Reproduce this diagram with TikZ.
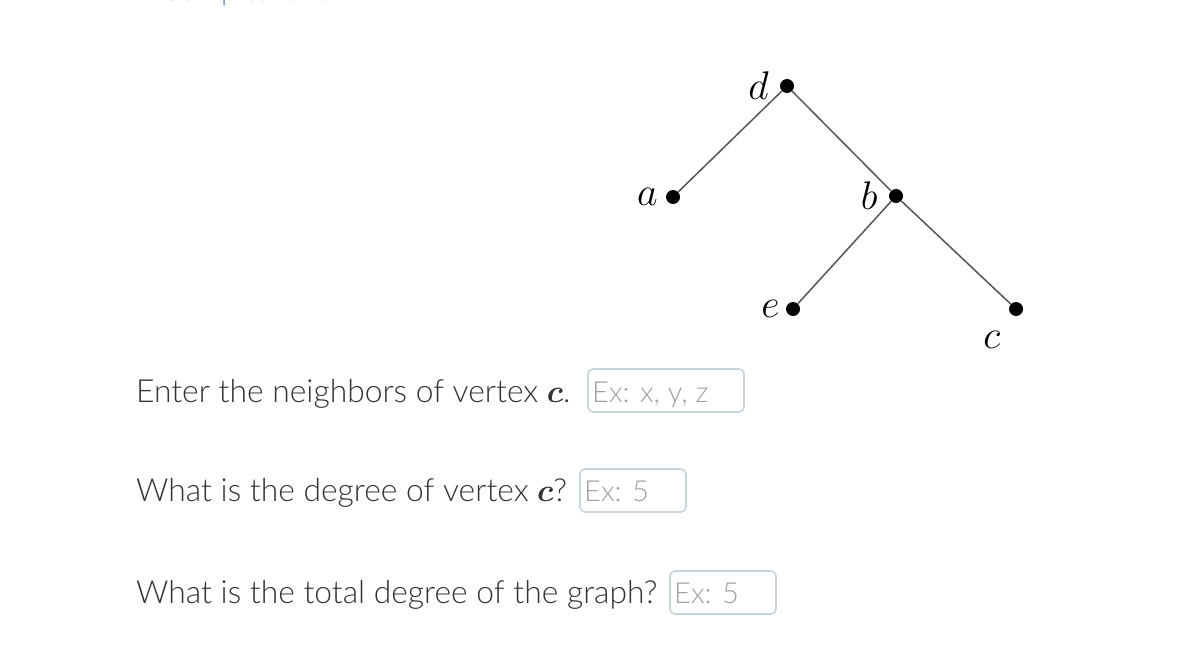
\RequirePackage{fix-cm}
\documentclass[tikz,border=0pt]{standalone}
\usepackage{amsmath}
\usepackage{amssymb}
\usepackage{bm}
\usepackage{fontspec}
\setmainfont{Lato Light}
\usepackage{tikz}
\definecolor{txtgray}{HTML}{333333}
\definecolor{edgegray}{HTML}{555555}
\definecolor{boxline}{HTML}{C9D5DD}
\definecolor{hintgray}{HTML}{A0A0A0}
\definecolor{linkblue}{HTML}{5E86B4}
\tikzset{
	vtx/.style={circle,fill=black,inner sep=0pt,minimum size=14pt},
	vlabel/.style={font=\fontsize{40}{40}\selectfont,inner sep=0pt},
	question/.style={anchor=base west,inner sep=0pt,text=txtgray,font=\fontsize{31.8}{32}\selectfont},
	answerbox/.style={draw=boxline,line width=1.6pt,rounded corners=5pt},
	hint/.style={anchor=base west,inner sep=0pt,text=hintgray,font=\fontsize{29}{29}\selectfont},
}

\begin{document}
\begin{tikzpicture}[x=1pt,y=-1pt]
	\useasboundingbox (0,0) rectangle (1190,663);
	\clip (0,0) rectangle (1190,663);

	%TOP LINK
	\node[anchor=base west,inner sep=0pt,text=linkblue,font=\fontsize{29}{29}\selectfont] (jump) at (170,1) {Jump to level 1};

	%VERTICES
	\node[vtx,label={[vlabel,label distance=11pt]left:$d$}] (d) at (787,86) {};
	\node[vtx,label={[vlabel,label distance=8pt]left:$a$}] (a) at (673,197) {};
	\node[vtx,label={[vlabel,label distance=11pt]left:$b$}] (b) at (896,196) {};
	\node[vtx,label={[vlabel,label distance=6pt]left:$e$}] (e) at (793,309) {};
	\node[vtx,label={[vlabel,label distance=20pt]-125:$c$}] (c) at (1016,309) {};

	%EDGES
	\draw[edgegray,line width=1.5pt] (d) -- (a);
	\draw[edgegray,line width=1.5pt] (d) -- (b);
	\draw[edgegray,line width=1.5pt] (b) -- (e);
	\draw[edgegray,line width=1.5pt] (b) -- (c);

	%QUESTIONS
	\node[question] (q1) at (136,402) {Enter the neighbors of vertex $\bm{c}$.};
	\draw[answerbox] (588,369) rectangle (744,412);
	\node[hint] (h1) at (592,402) {Ex: x, y, z};

	\node[question] (q2) at (136,501) {What is the degree of vertex $\bm{c}$?};
	\draw[answerbox] (580,469) rectangle (686,512);
	\node[hint] (h2) at (584,501) {Ex: 5};

	\node[question] (q3) at (136,603) {What is the total degree of the graph?};
	\draw[answerbox] (670,571) rectangle (776,614);
	\node[hint] (h3) at (674,603) {Ex: 5};
\end{tikzpicture}
\end{document}
